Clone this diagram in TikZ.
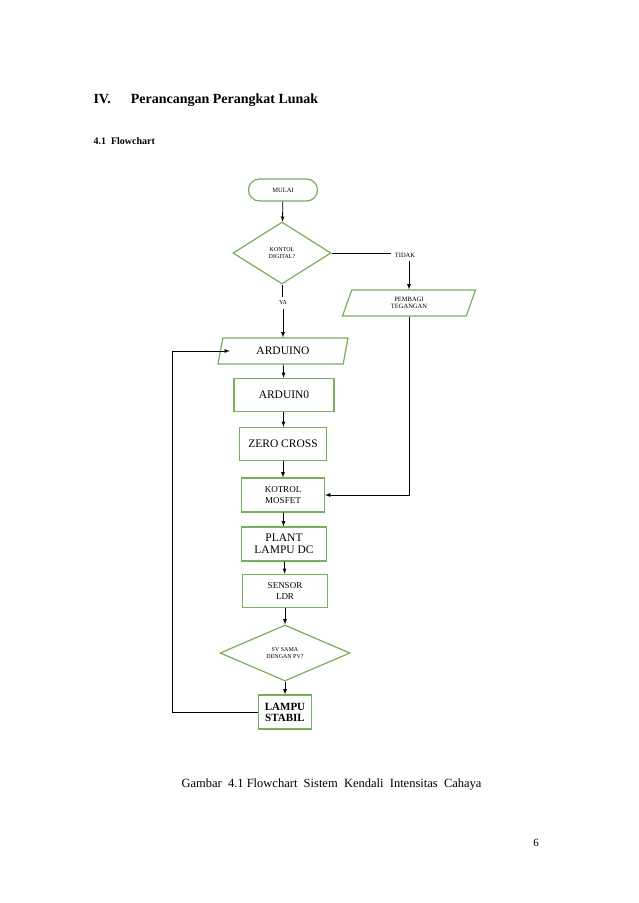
\documentclass[tikz,border=0pt]{standalone}
\usepackage{fontspec}
\setmainfont{Liberation Serif}
\usetikzlibrary{shapes.geometric}
\definecolor{hijau}{RGB}{120,175,90}
\tikzset{
  kotak/.style={draw=hijau, line width=1.2pt, rectangle, inner sep=0pt, align=center},
  mulai/.style={draw=hijau, line width=1.2pt, rectangle, rounded corners=11pt, inner sep=0pt, minimum width=69pt, minimum height=22pt, font=\fontsize{6.5}{7}\selectfont},
  pilihan/.style={draw=hijau, line width=1.2pt, diamond, inner sep=0pt, align=center, font=\fontsize{6}{6.5}\selectfont},
  jajar/.style={draw=hijau, line width=1.2pt, trapezium, trapezium stretches body, inner sep=0pt, align=center, minimum height=26pt},
  panah/.style={->, >=latex, line width=0.8pt},
  garis/.style={line width=0.8pt}
}
\begin{document}
\begin{tikzpicture}[x=1pt, y=-1pt]
        \useasboundingbox[fill=white] (0,0) rectangle (638,903);

        % Judul
        \node[anchor=west, font=\fontsize{14}{16}\selectfont\bfseries] at (90,100) {IV.\hspace{20pt}Perancangan Perangkat Lunak};
        \node[anchor=west, font=\fontsize{10}{12}\selectfont\bfseries] at (90,141) {4.1\ \ Flowchart};

        % Bentuk
        \node[mulai] (mulai) at (283,190) {MULAI};
        \node[pilihan, minimum width=98pt, minimum height=62pt] (digital) at (282,253) {KONTOL\\DIGITAL?};
        \node[jajar, trapezium left angle=52, trapezium right angle=128, minimum width=133pt, font=\fontsize{6.5}{7.5}\selectfont] (pembagi) at (409,303) {PEMBAGI\\TEGANGAN};
        \node[jajar, trapezium left angle=58, trapezium right angle=122, minimum width=130pt, font=\fontsize{11.5}{12}\selectfont] (arduino) at (283,351) {ARDUINO};
        \node[kotak, minimum width=100pt, minimum height=33pt, font=\fontsize{11.5}{12}\selectfont] (arduinonol) at (284,395) {ARDUIN0};
        \node[kotak, minimum width=87pt, minimum height=33pt, font=\fontsize{11.5}{12}\selectfont] (zero) at (283,444) {ZERO CROSS};
        \node[kotak, minimum width=83pt, minimum height=34pt, font=\fontsize{9}{10.5}\selectfont] (mosfet) at (283,495) {KOTROL\\MOSFET};
        \node[kotak, minimum width=85pt, minimum height=34pt, font=\fontsize{11.5}{11.5}\selectfont] (plant) at (284,544) {PLANT\\LAMPU DC};
        \node[kotak, minimum width=85pt, minimum height=33pt, font=\fontsize{9}{10.5}\selectfont] (sensor) at (285,591) {SENSOR\\LDR};
        \node[pilihan, minimum width=130pt, minimum height=56pt] (sv) at (285,653) {SV SAMA\\DENGAN PV?};
        \node[kotak, minimum width=53pt, minimum height=34pt, font=\fontsize{11}{11}\selectfont\bfseries] (stabil) at (285,712) {LAMPU\\STABIL};

        % Label cabang
        \node[font=\fontsize{6.5}{7}\selectfont] (tidak) at (405,255) {TIDAK};
        \node[font=\fontsize{6}{6.5}\selectfont] (ya) at (283,303) {YA};

        % Panah
        \draw[panah] (mulai) -- (digital);
        \draw[garis] (digital.east) -- (digital.east -| tidak.west);
        \draw[panah] (tidak.south -| pembagi.north) -- (pembagi.north);
        \draw[garis] (digital.south) -- (digital.south |- ya.north);
        \draw[panah] (ya.south -| arduino.north) -- (arduino.north);
        \draw[panah] (arduino) -- (arduinonol);
        \draw[panah] (arduinonol) -- (zero);
        \draw[panah] (zero) -- (mosfet);
        \draw[panah] (mosfet) -- (plant);
        \draw[panah] (plant) -- (sensor);
        \draw[panah] (sensor) -- (sv);
        \draw[panah] (sv) -- (stabil);
        \draw[panah] (pembagi.south) |- (mosfet.east);
        \draw[panah] (stabil.west) -- ++(-86,0) |- ([xshift=10pt]arduino.west);

        % Keterangan
        \node[anchor=west, font=\fontsize{12.5}{14}\selectfont] (judul) at (178,785) {Gambar\ \ 4.1 Flowchart\ \ Sistem\ \ Kendali\ \ Intensitas\ \ Cahaya};
        \node[font=\fontsize{11}{12}\selectfont] (hal) at (536,843) {6};
\end{tikzpicture}
\end{document}
